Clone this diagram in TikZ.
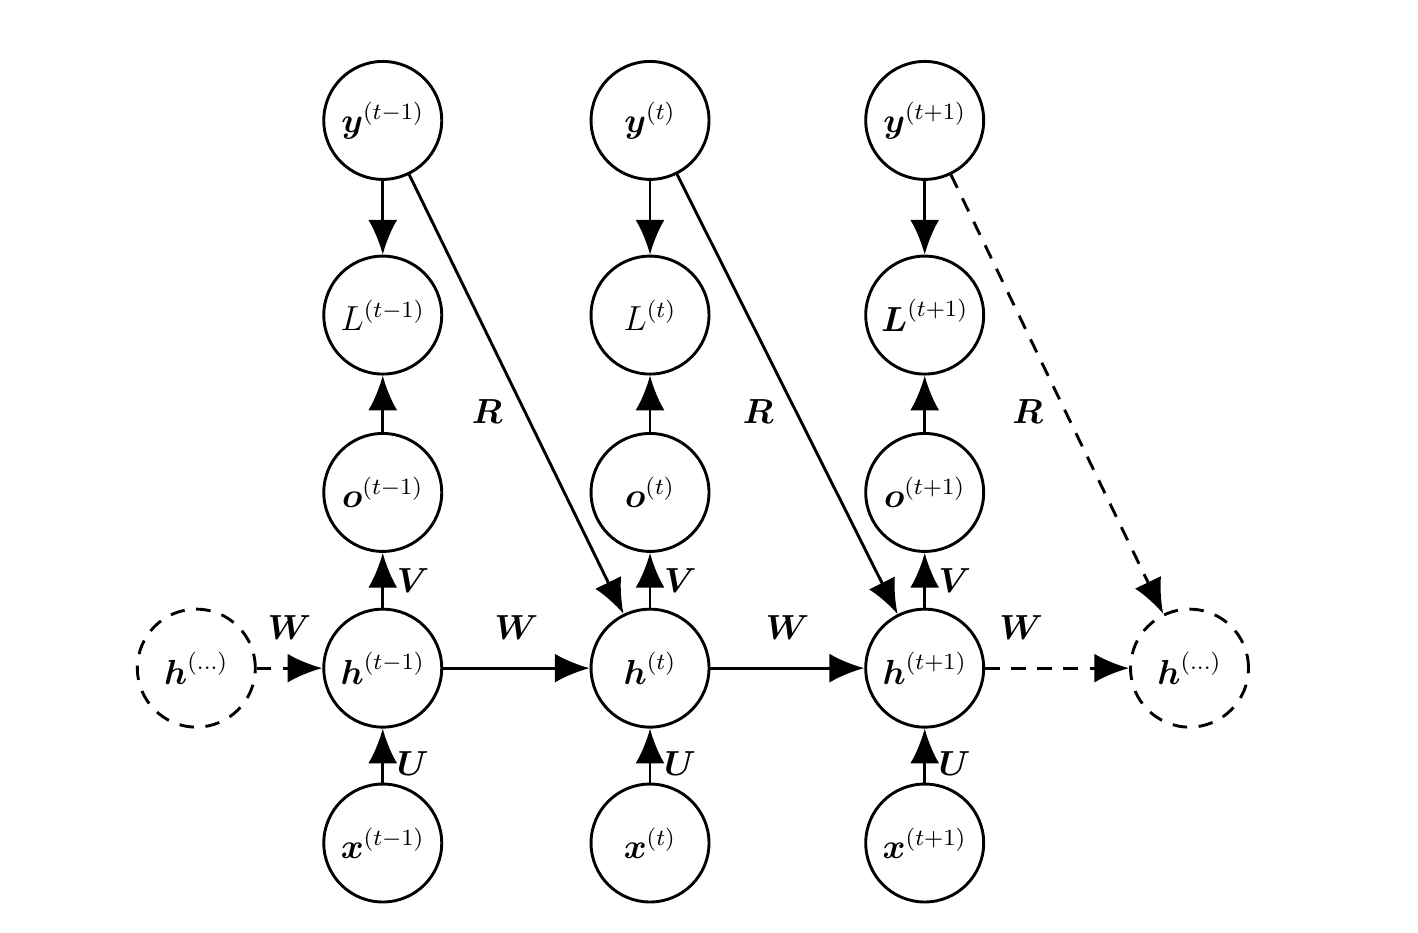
\documentclass[tikz,border=0pt]{standalone}
\usepackage{amsmath}
\usetikzlibrary{arrows.meta}

\tikzset{
        unit/.style={circle,draw,line width=1pt,minimum size=1.43cm,inner sep=0pt},
        ghost/.style={unit,dash pattern=on 5pt off 4pt},
        ghostline/.style={dash pattern=on 5pt off 4pt},
}

\begin{document}
\begin{tikzpicture}[line width=1pt,>={Latex[length=12pt,width=10pt]},font=\large]
        % fix the size of the picture
        \useasboundingbox (0,0) rectangle (17.19,11.3);

        % draw the units of each time step
        \foreach \i/\px/\stp/\lsym in {1/4.64/t-1/L, 2/7.88/t/L, 3/11.21/t+1/\boldsymbol{L}} {
                \node[unit] (y\i) at (\px,9.84) {$\boldsymbol{y}^{(\stp)}$};
                \node[unit] (L\i) at (\px,7.48) {$\lsym^{(\stp)}$};
                \node[unit] (o\i) at (\px,5.33) {$\boldsymbol{o}^{(\stp)}$};
                \node[unit] (h\i) at (\px,3.20) {$\boldsymbol{h}^{(\stp)}$};
                \node[unit] (x\i) at (\px,1.08) {$\boldsymbol{x}^{(\stp)}$};

                % vertical connections
                \draw[->] (y\i) -- (L\i);
                \draw[->] (o\i) -- (L\i);
                \draw[->] (h\i) -- node[right=1pt] {$\boldsymbol{V}$} (o\i);
                \draw[->] (x\i) -- node[pos=0.35,right=1pt] {$\boldsymbol{U}$} (h\i);
        }

        % draw the hidden units before and after
        \node[ghost] (h0) at (2.38,3.20) {$\boldsymbol{h}^{(\ldots)}$};
        \node[ghost] (h4) at (14.42,3.20) {$\boldsymbol{h}^{(\ldots)}$};

        % recurrent connections
        \draw[->,ghostline] (h0) -- node[above=6pt] {$\boldsymbol{W}$} (h1);
        \foreach \i/\j in {1/2, 2/3}
                \draw[->] (h\i) -- node[above=6pt] {$\boldsymbol{W}$} (h\j);
        \draw[->,ghostline] (h3) -- node[pos=0.25,above=6pt] {$\boldsymbol{W}$} (h4);

        % connections from the targets
        \foreach \i/\j in {1/2, 2/3}
                \draw[->] (y\i) -- node[pos=0.54,left=4pt] {$\boldsymbol{R}$} (h\j);
        \draw[->,ghostline] (y3) -- node[pos=0.54,left=4pt] {$\boldsymbol{R}$} (h4);
\end{tikzpicture}
\end{document}
